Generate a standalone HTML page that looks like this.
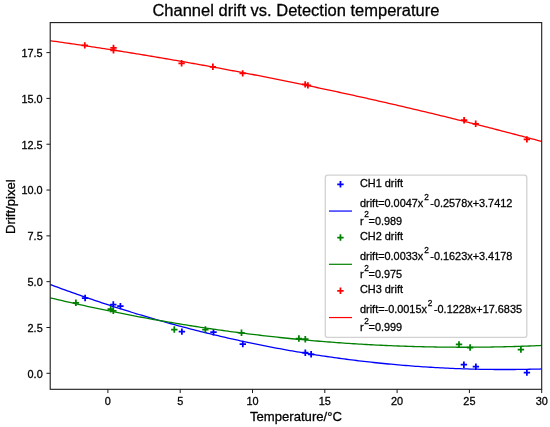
<!DOCTYPE html>
<html><head><meta charset="utf-8"><title>Channel drift vs. Detection temperature</title>
<style>html,body{margin:0;padding:0;background:#fff;}body{width:550px;height:427px;overflow:hidden;}svg{display:block;}</style>
</head><body>
<svg width="550" height="427" viewBox="0 0 550 427" font-family="&quot;Liberation Sans&quot;, Arial, sans-serif">
<style>text{stroke:#000;stroke-width:0.28px;paint-order:stroke;}</style>
<rect x="0" y="0" width="550" height="427" fill="#ffffff"/>
<g clip-path="url(#ax)">
<clipPath id="ax"><rect x="50.2" y="22.6" width="491.50000000000006" height="366.7"/></clipPath>
<path d="M81.90 298.00H88.30M85.10 294.80V301.20" stroke="blue" stroke-width="1.75" fill="none"/>
<path d="M110.10 304.50H116.50M113.30 301.30V307.70" stroke="blue" stroke-width="1.75" fill="none"/>
<path d="M117.20 306.10H123.60M120.40 302.90V309.30" stroke="blue" stroke-width="1.75" fill="none"/>
<path d="M178.70 331.60H185.10M181.90 328.40V334.80" stroke="blue" stroke-width="1.75" fill="none"/>
<path d="M210.30 332.20H216.70M213.50 329.00V335.40" stroke="blue" stroke-width="1.75" fill="none"/>
<path d="M239.60 344.00H246.00M242.80 340.80V347.20" stroke="blue" stroke-width="1.75" fill="none"/>
<path d="M302.10 352.70H308.50M305.30 349.50V355.90" stroke="blue" stroke-width="1.75" fill="none"/>
<path d="M307.90 354.30H314.30M311.10 351.10V357.50" stroke="blue" stroke-width="1.75" fill="none"/>
<path d="M460.70 364.70H467.10M463.90 361.50V367.90" stroke="blue" stroke-width="1.75" fill="none"/>
<path d="M472.70 366.70H479.10M475.90 363.50V369.90" stroke="blue" stroke-width="1.75" fill="none"/>
<path d="M523.70 372.60H530.10M526.90 369.40V375.80" stroke="blue" stroke-width="1.75" fill="none"/>
<polyline points="50.06,284.46 52.53,285.39 55.00,286.30 57.47,287.22 59.94,288.12 62.41,289.02 64.88,289.92 67.35,290.81 69.82,291.70 72.29,292.58 74.77,293.46 77.24,294.33 79.71,295.20 82.18,296.06 84.65,296.92 87.12,297.77 89.59,298.62 92.06,299.46 94.53,300.30 97.00,301.13 99.47,301.96 101.94,302.78 104.41,303.59 106.88,304.41 109.35,305.21 111.82,306.01 114.29,306.81 116.76,307.60 119.24,308.39 121.71,309.17 124.18,309.95 126.65,310.72 129.12,311.49 131.59,312.25 134.06,313.00 136.53,313.76 139.00,314.50 141.47,315.24 143.94,315.98 146.41,316.71 148.88,317.44 151.35,318.16 153.82,318.87 156.29,319.59 158.76,320.29 161.23,320.99 163.71,321.69 166.18,322.38 168.65,323.07 171.12,323.75 173.59,324.42 176.06,325.09 178.53,325.76 181.00,326.42 183.47,327.08 185.94,327.73 188.41,328.37 190.88,329.01 193.35,329.65 195.82,330.28 198.29,330.91 200.76,331.53 203.23,332.14 205.70,332.75 208.18,333.36 210.65,333.96 213.12,334.56 215.59,335.15 218.06,335.73 220.53,336.31 223.00,336.89 225.47,337.46 227.94,338.02 230.41,338.58 232.88,339.14 235.35,339.69 237.82,340.23 240.29,340.77 242.76,341.31 245.23,341.84 247.70,342.36 250.17,342.89 252.65,343.40 255.12,343.91 257.59,344.42 260.06,344.92 262.53,345.41 265.00,345.90 267.47,346.39 269.94,346.86 272.41,347.34 274.88,347.81 277.35,348.27 279.82,348.73 282.29,349.19 284.76,349.64 287.23,350.08 289.70,350.52 292.17,350.96 294.64,351.39 297.12,351.81 299.59,352.23 302.06,352.65 304.53,353.06 307.00,353.46 309.47,353.86 311.94,354.25 314.41,354.64 316.88,355.03 319.35,355.41 321.82,355.78 324.29,356.15 326.76,356.51 329.23,356.87 331.70,357.23 334.17,357.58 336.64,357.92 339.11,358.26 341.59,358.59 344.06,358.92 346.53,359.25 349.00,359.57 351.47,359.88 353.94,360.19 356.41,360.49 358.88,360.79 361.35,361.09 363.82,361.37 366.29,361.66 368.76,361.94 371.23,362.21 373.70,362.48 376.17,362.74 378.64,363.00 381.11,363.26 383.58,363.50 386.06,363.75 388.53,363.99 391.00,364.22 393.47,364.45 395.94,364.67 398.41,364.89 400.88,365.10 403.35,365.31 405.82,365.51 408.29,365.71 410.76,365.91 413.23,366.09 415.70,366.28 418.17,366.46 420.64,366.63 423.11,366.80 425.58,366.96 428.05,367.12 430.53,367.27 433.00,367.42 435.47,367.56 437.94,367.70 440.41,367.83 442.88,367.96 445.35,368.08 447.82,368.20 450.29,368.31 452.76,368.42 455.23,368.53 457.70,368.62 460.17,368.72 462.64,368.80 465.11,368.89 467.58,368.96 470.05,369.04 472.52,369.10 475.00,369.17 477.47,369.22 479.94,369.28 482.41,369.32 484.88,369.37 487.35,369.40 489.82,369.44 492.29,369.46 494.76,369.49 497.23,369.50 499.70,369.51 502.17,369.52 504.64,369.52 507.11,369.52 509.58,369.51 512.05,369.50 514.52,369.48 516.99,369.46 519.47,369.43 521.94,369.40 524.41,369.36 526.88,369.32 529.35,369.27 531.82,369.22 534.29,369.16 536.76,369.09 539.23,369.03 541.70,368.95" fill="none" stroke="blue" stroke-width="1.3" stroke-linejoin="round"/>
<path d="M72.70 302.80H79.10M75.90 299.60V306.00" stroke="green" stroke-width="1.75" fill="none"/>
<path d="M107.50 309.20H113.90M110.70 306.00V312.40" stroke="green" stroke-width="1.75" fill="none"/>
<path d="M110.10 310.90H116.50M113.30 307.70V314.10" stroke="green" stroke-width="1.75" fill="none"/>
<path d="M171.10 329.50H177.50M174.30 326.30V332.70" stroke="green" stroke-width="1.75" fill="none"/>
<path d="M202.20 329.50H208.60M205.40 326.30V332.70" stroke="green" stroke-width="1.75" fill="none"/>
<path d="M238.30 332.80H244.70M241.50 329.60V336.00" stroke="green" stroke-width="1.75" fill="none"/>
<path d="M295.70 338.50H302.10M298.90 335.30V341.70" stroke="green" stroke-width="1.75" fill="none"/>
<path d="M302.10 339.20H308.50M305.30 336.00V342.40" stroke="green" stroke-width="1.75" fill="none"/>
<path d="M455.80 344.40H462.20M459.00 341.20V347.60" stroke="green" stroke-width="1.75" fill="none"/>
<path d="M466.90 347.50H473.30M470.10 344.30V350.70" stroke="green" stroke-width="1.75" fill="none"/>
<path d="M517.70 349.60H524.10M520.90 346.40V352.80" stroke="green" stroke-width="1.75" fill="none"/>
<polyline points="50.06,297.80 52.53,298.39 55.00,298.98 57.47,299.56 59.94,300.14 62.41,300.71 64.88,301.28 67.35,301.85 69.82,302.41 72.29,302.98 74.77,303.53 77.24,304.09 79.71,304.64 82.18,305.18 84.65,305.73 87.12,306.27 89.59,306.80 92.06,307.33 94.53,307.86 97.00,308.39 99.47,308.91 101.94,309.43 104.41,309.94 106.88,310.46 109.35,310.96 111.82,311.47 114.29,311.97 116.76,312.47 119.24,312.96 121.71,313.45 124.18,313.94 126.65,314.42 129.12,314.90 131.59,315.38 134.06,315.85 136.53,316.32 139.00,316.78 141.47,317.24 143.94,317.70 146.41,318.16 148.88,318.61 151.35,319.06 153.82,319.50 156.29,319.94 158.76,320.38 161.23,320.81 163.71,321.24 166.18,321.67 168.65,322.09 171.12,322.51 173.59,322.93 176.06,323.34 178.53,323.75 181.00,324.16 183.47,324.56 185.94,324.96 188.41,325.35 190.88,325.74 193.35,326.13 195.82,326.51 198.29,326.90 200.76,327.27 203.23,327.65 205.70,328.02 208.18,328.38 210.65,328.75 213.12,329.11 215.59,329.46 218.06,329.81 220.53,330.16 223.00,330.51 225.47,330.85 227.94,331.19 230.41,331.52 232.88,331.86 235.35,332.18 237.82,332.51 240.29,332.83 242.76,333.15 245.23,333.46 247.70,333.77 250.17,334.08 252.65,334.38 255.12,334.68 257.59,334.97 260.06,335.27 262.53,335.56 265.00,335.84 267.47,336.12 269.94,336.40 272.41,336.68 274.88,336.95 277.35,337.22 279.82,337.48 282.29,337.74 284.76,338.00 287.23,338.25 289.70,338.50 292.17,338.75 294.64,338.99 297.12,339.23 299.59,339.47 302.06,339.70 304.53,339.93 307.00,340.15 309.47,340.38 311.94,340.59 314.41,340.81 316.88,341.02 319.35,341.23 321.82,341.43 324.29,341.63 326.76,341.83 329.23,342.02 331.70,342.21 334.17,342.40 336.64,342.58 339.11,342.76 341.59,342.94 344.06,343.11 346.53,343.28 349.00,343.44 351.47,343.61 353.94,343.76 356.41,343.92 358.88,344.07 361.35,344.22 363.82,344.36 366.29,344.50 368.76,344.64 371.23,344.77 373.70,344.90 376.17,345.03 378.64,345.15 381.11,345.27 383.58,345.39 386.06,345.50 388.53,345.61 391.00,345.72 393.47,345.82 395.94,345.92 398.41,346.01 400.88,346.10 403.35,346.19 405.82,346.27 408.29,346.35 410.76,346.43 413.23,346.51 415.70,346.58 418.17,346.64 420.64,346.71 423.11,346.76 425.58,346.82 428.05,346.87 430.53,346.92 433.00,346.97 435.47,347.01 437.94,347.05 440.41,347.08 442.88,347.11 445.35,347.14 447.82,347.16 450.29,347.19 452.76,347.20 455.23,347.22 457.70,347.23 460.17,347.23 462.64,347.24 465.11,347.24 467.58,347.23 470.05,347.22 472.52,347.21 475.00,347.20 477.47,347.18 479.94,347.16 482.41,347.13 484.88,347.10 487.35,347.07 489.82,347.04 492.29,347.00 494.76,346.95 497.23,346.91 499.70,346.86 502.17,346.80 504.64,346.75 507.11,346.69 509.58,346.62 512.05,346.55 514.52,346.48 516.99,346.41 519.47,346.33 521.94,346.25 524.41,346.16 526.88,346.07 529.35,345.98 531.82,345.89 534.29,345.79 536.76,345.68 539.23,345.58 541.70,345.47" fill="none" stroke="green" stroke-width="1.3" stroke-linejoin="round"/>
<path d="M81.60 45.40H88.00M84.80 42.20V48.60" stroke="red" stroke-width="1.75" fill="none"/>
<path d="M110.30 47.90H116.70M113.50 44.70V51.10" stroke="red" stroke-width="1.75" fill="none"/>
<path d="M110.30 50.40H116.70M113.50 47.20V53.60" stroke="red" stroke-width="1.75" fill="none"/>
<path d="M178.40 63.30H184.80M181.60 60.10V66.50" stroke="red" stroke-width="1.75" fill="none"/>
<path d="M209.70 66.80H216.10M212.90 63.60V70.00" stroke="red" stroke-width="1.75" fill="none"/>
<path d="M239.50 73.40H245.90M242.70 70.20V76.60" stroke="red" stroke-width="1.75" fill="none"/>
<path d="M302.00 84.40H308.40M305.20 81.20V87.60" stroke="red" stroke-width="1.75" fill="none"/>
<path d="M304.70 85.40H311.10M307.90 82.20V88.60" stroke="red" stroke-width="1.75" fill="none"/>
<path d="M460.90 120.20H467.30M464.10 117.00V123.40" stroke="red" stroke-width="1.75" fill="none"/>
<path d="M472.50 123.80H478.90M475.70 120.60V127.00" stroke="red" stroke-width="1.75" fill="none"/>
<path d="M523.70 139.40H530.10M526.90 136.20V142.60" stroke="red" stroke-width="1.75" fill="none"/>
<polyline points="50.06,40.67 52.53,41.02 55.00,41.37 57.47,41.72 59.94,42.07 62.41,42.42 64.88,42.78 67.35,43.14 69.82,43.50 72.29,43.86 74.77,44.22 77.24,44.58 79.71,44.95 82.18,45.32 84.65,45.68 87.12,46.05 89.59,46.43 92.06,46.80 94.53,47.17 97.00,47.55 99.47,47.93 101.94,48.31 104.41,48.69 106.88,49.07 109.35,49.46 111.82,49.84 114.29,50.23 116.76,50.62 119.24,51.01 121.71,51.41 124.18,51.80 126.65,52.20 129.12,52.59 131.59,52.99 134.06,53.39 136.53,53.80 139.00,54.20 141.47,54.60 143.94,55.01 146.41,55.42 148.88,55.83 151.35,56.24 153.82,56.66 156.29,57.07 158.76,57.49 161.23,57.91 163.71,58.33 166.18,58.75 168.65,59.17 171.12,59.60 173.59,60.02 176.06,60.45 178.53,60.88 181.00,61.31 183.47,61.74 185.94,62.18 188.41,62.61 190.88,63.05 193.35,63.49 195.82,63.93 198.29,64.37 200.76,64.82 203.23,65.26 205.70,65.71 208.18,66.16 210.65,66.61 213.12,67.06 215.59,67.52 218.06,67.97 220.53,68.43 223.00,68.89 225.47,69.35 227.94,69.81 230.41,70.27 232.88,70.74 235.35,71.20 237.82,71.67 240.29,72.14 242.76,72.61 245.23,73.09 247.70,73.56 250.17,74.04 252.65,74.51 255.12,74.99 257.59,75.47 260.06,75.96 262.53,76.44 265.00,76.93 267.47,77.41 269.94,77.90 272.41,78.39 274.88,78.89 277.35,79.38 279.82,79.87 282.29,80.37 284.76,80.87 287.23,81.37 289.70,81.87 292.17,82.38 294.64,82.88 297.12,83.39 299.59,83.90 302.06,84.40 304.53,84.92 307.00,85.43 309.47,85.94 311.94,86.46 314.41,86.98 316.88,87.50 319.35,88.02 321.82,88.54 324.29,89.07 326.76,89.59 329.23,90.12 331.70,90.65 334.17,91.18 336.64,91.71 339.11,92.24 341.59,92.78 344.06,93.32 346.53,93.86 349.00,94.40 351.47,94.94 353.94,95.48 356.41,96.03 358.88,96.57 361.35,97.12 363.82,97.67 366.29,98.22 368.76,98.78 371.23,99.33 373.70,99.89 376.17,100.45 378.64,101.01 381.11,101.57 383.58,102.13 386.06,102.69 388.53,103.26 391.00,103.83 393.47,104.40 395.94,104.97 398.41,105.54 400.88,106.11 403.35,106.69 405.82,107.27 408.29,107.85 410.76,108.43 413.23,109.01 415.70,109.59 418.17,110.18 420.64,110.76 423.11,111.35 425.58,111.94 428.05,112.53 430.53,113.13 433.00,113.72 435.47,114.32 437.94,114.92 440.41,115.52 442.88,116.12 445.35,116.72 447.82,117.32 450.29,117.93 452.76,118.54 455.23,119.15 457.70,119.76 460.17,120.37 462.64,120.99 465.11,121.60 467.58,122.22 470.05,122.84 472.52,123.46 475.00,124.08 477.47,124.70 479.94,125.33 482.41,125.96 484.88,126.59 487.35,127.22 489.82,127.85 492.29,128.48 494.76,129.12 497.23,129.75 499.70,130.39 502.17,131.03 504.64,131.67 507.11,132.31 509.58,132.96 512.05,133.61 514.52,134.25 516.99,134.90 519.47,135.55 521.94,136.21 524.41,136.86 526.88,137.52 529.35,138.17 531.82,138.83 534.29,139.49 536.76,140.16 539.23,140.82 541.70,141.49" fill="none" stroke="red" stroke-width="1.3" stroke-linejoin="round"/>
</g>
<rect x="50.2" y="22.6" width="491.50" height="366.70" fill="none" stroke="#1a1a1a" stroke-width="1.1"/>
<line x1="107.90" y1="389.3" x2="107.90" y2="393.05" stroke="#1a1a1a" stroke-width="1"/>
<text x="107.90" y="404.6" font-size="10.9" text-anchor="middle" fill="#000">0</text>
<line x1="180.20" y1="389.3" x2="180.20" y2="393.05" stroke="#1a1a1a" stroke-width="1"/>
<text x="180.20" y="404.6" font-size="10.9" text-anchor="middle" fill="#000">5</text>
<line x1="252.50" y1="389.3" x2="252.50" y2="393.05" stroke="#1a1a1a" stroke-width="1"/>
<text x="252.50" y="404.6" font-size="10.9" text-anchor="middle" fill="#000">10</text>
<line x1="324.80" y1="389.3" x2="324.80" y2="393.05" stroke="#1a1a1a" stroke-width="1"/>
<text x="324.80" y="404.6" font-size="10.9" text-anchor="middle" fill="#000">15</text>
<line x1="397.10" y1="389.3" x2="397.10" y2="393.05" stroke="#1a1a1a" stroke-width="1"/>
<text x="397.10" y="404.6" font-size="10.9" text-anchor="middle" fill="#000">20</text>
<line x1="469.40" y1="389.3" x2="469.40" y2="393.05" stroke="#1a1a1a" stroke-width="1"/>
<text x="469.40" y="404.6" font-size="10.9" text-anchor="middle" fill="#000">25</text>
<line x1="541.70" y1="389.3" x2="541.70" y2="393.05" stroke="#1a1a1a" stroke-width="1"/>
<text x="541.70" y="404.6" font-size="10.9" text-anchor="middle" fill="#000">30</text>
<line x1="46.45" y1="373.30" x2="50.2" y2="373.30" stroke="#1a1a1a" stroke-width="1"/>
<text x="42.7" y="377.65" font-size="10.9" text-anchor="end" fill="#000">0.0</text>
<line x1="46.45" y1="327.49" x2="50.2" y2="327.49" stroke="#1a1a1a" stroke-width="1"/>
<text x="42.7" y="331.84" font-size="10.9" text-anchor="end" fill="#000">2.5</text>
<line x1="46.45" y1="281.67" x2="50.2" y2="281.67" stroke="#1a1a1a" stroke-width="1"/>
<text x="42.7" y="286.02" font-size="10.9" text-anchor="end" fill="#000">5.0</text>
<line x1="46.45" y1="235.86" x2="50.2" y2="235.86" stroke="#1a1a1a" stroke-width="1"/>
<text x="42.7" y="240.21" font-size="10.9" text-anchor="end" fill="#000">7.5</text>
<line x1="46.45" y1="190.04" x2="50.2" y2="190.04" stroke="#1a1a1a" stroke-width="1"/>
<text x="42.7" y="194.39" font-size="10.9" text-anchor="end" fill="#000">10.0</text>
<line x1="46.45" y1="144.22" x2="50.2" y2="144.22" stroke="#1a1a1a" stroke-width="1"/>
<text x="42.7" y="148.57" font-size="10.9" text-anchor="end" fill="#000">12.5</text>
<line x1="46.45" y1="98.41" x2="50.2" y2="98.41" stroke="#1a1a1a" stroke-width="1"/>
<text x="42.7" y="102.76" font-size="10.9" text-anchor="end" fill="#000">15.0</text>
<line x1="46.45" y1="52.60" x2="50.2" y2="52.60" stroke="#1a1a1a" stroke-width="1"/>
<text x="42.7" y="56.95" font-size="10.9" text-anchor="end" fill="#000">17.5</text>
<text x="295.95" y="16.0" font-size="16.5" text-anchor="middle" fill="#000">Channel drift vs. Detection temperature</text>
<text x="295.95" y="421" font-size="13.1" text-anchor="middle" fill="#000">Temperature/°C</text>
<text transform="translate(14.9 206.6) rotate(-90)" x="0" y="0" font-size="13.1" text-anchor="middle" fill="#000">Drift/pixel</text>
<rect x="325.3" y="175.2" width="201.5" height="162.2" rx="2.5" fill="#ffffff" fill-opacity="0.8" stroke="#d2d2d2" stroke-width="1.3"/>
<path d="M337.25 184.30H343.65M340.45 181.10V187.50" stroke="blue" stroke-width="1.75" fill="none"/>
<text x="360.0" y="186.90" font-size="10.9" fill="#000">CH1 drift</text>
<line x1="329" y1="211.05" x2="352" y2="211.05" stroke="blue" stroke-width="1.2"/>
<text x="360.0" y="206.80" font-size="10.9" fill="#000">drift=0.0047x<tspan dx="0.9" dy="-7.3" font-size="8.30">2</tspan><tspan dy="7.3" dx="1.5">-0.2578x+3.7412</tspan></text>
<text x="360.0" y="224.60" font-size="10.9" fill="#000">r<tspan dx="0.6" dy="-7.3" font-size="8.30">2</tspan><tspan dy="7.3" dx="-0.3">=0.989</tspan></text>
<path d="M337.25 237.55H343.65M340.45 234.35V240.75" stroke="green" stroke-width="1.75" fill="none"/>
<text x="360.0" y="240.15" font-size="10.9" fill="#000">CH2 drift</text>
<line x1="329" y1="264.30" x2="352" y2="264.30" stroke="green" stroke-width="1.2"/>
<text x="360.0" y="260.05" font-size="10.9" fill="#000">drift=0.0033x<tspan dx="0.9" dy="-7.3" font-size="8.30">2</tspan><tspan dy="7.3" dx="1.5">-0.1623x+3.4178</tspan></text>
<text x="360.0" y="277.85" font-size="10.9" fill="#000">r<tspan dx="0.6" dy="-7.3" font-size="8.30">2</tspan><tspan dy="7.3" dx="-0.3">=0.975</tspan></text>
<path d="M337.25 290.80H343.65M340.45 287.60V294.00" stroke="red" stroke-width="1.75" fill="none"/>
<text x="360.0" y="293.40" font-size="10.9" fill="#000">CH3 drift</text>
<line x1="329" y1="317.55" x2="352" y2="317.55" stroke="red" stroke-width="1.2"/>
<text x="360.0" y="313.30" font-size="10.9" fill="#000">drift=-0.0015x<tspan dx="0.9" dy="-7.3" font-size="8.30">2</tspan><tspan dy="7.3" dx="1.5">-0.1228x+17.6835</tspan></text>
<text x="360.0" y="331.10" font-size="10.9" fill="#000">r<tspan dx="0.6" dy="-7.3" font-size="8.30">2</tspan><tspan dy="7.3" dx="-0.3">=0.999</tspan></text>
</svg>
</body></html>
